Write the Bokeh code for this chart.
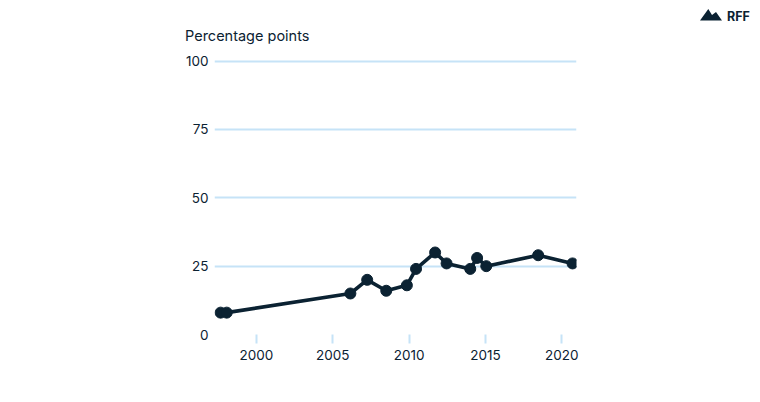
from bokeh.plotting import figure
from bokeh.layouts import column
from bokeh.models import ColumnDataSource, FixedTicker, Range1d, Div
from bokeh.embed import file_html
from bokeh.resources import INLINE

# data (decimal years, percentage points)
years = [1997.65, 1998.05, 2006.15, 2007.25, 2008.5, 2009.85, 2010.45,
         2011.7, 2012.45, 2014.0, 2014.45, 2015.05, 2018.45, 2020.7]
values = [8, 8, 15, 20, 16, 18, 24, 30, 26, 24, 28, 25, 29, 26]

x_ticks = [2000, 2005, 2010, 2015, 2020]
y_ticks = [0, 25, 50, 75, 100]

ink = "#0b2232"
grid = "#c6e3f7"
font = "Inter"

W = 744
HEAD = 52

# header strip: unit title and RFF logo
head_html = f"""
<div style="position:relative;width:{W}px;height:{HEAD}px;font-family:'{font}';color:{ink};">
  <span style="position:absolute;left:185px;top:26px;font-size:14.5px;white-space:nowrap;">Percentage points</span>
  <svg style="position:absolute;left:700px;top:9px;" width="22" height="12" viewBox="0 0 22 12">
    <polygon points="0,11.5 8.3,0 12,6 16,3 22,11.5" fill="{ink}"/>
  </svg>
  <span style="position:absolute;left:727px;top:7.5px;font-size:12.5px;font-weight:700;white-space:nowrap;">RFF</span>
</div>
"""
head = Div(text=head_html, width=W, height=HEAD, margin=0)

# main chart
p = figure(width=W, height=386 - HEAD, output_backend="svg", toolbar_location=None,
           x_range=Range1d(1997.25, 2020.96), y_range=Range1d(0, 100.6),
           min_border_left=214, min_border_right=168,
           min_border_top=7, min_border_bottom=52)
p.outline_line_color = None

src = ColumnDataSource(data=dict(x=years, y=values))
p.line("x", "y", source=src, line_color=ink, line_width=3.6)
p.scatter("x", "y", source=src, size=11, fill_color=ink, line_color=ink)

p.xaxis.ticker = FixedTicker(ticks=x_ticks)
p.yaxis.ticker = FixedTicker(ticks=y_ticks)
p.xaxis.axis_line_color = None
p.yaxis.axis_line_color = None
p.xaxis.major_tick_line_color = grid
p.xaxis.major_tick_line_width = 2
p.xaxis.major_tick_out = 9
p.xaxis.major_tick_in = 0
p.xaxis.minor_tick_line_color = None
p.yaxis.major_tick_line_color = None
p.yaxis.major_tick_out = 0
p.yaxis.major_tick_in = 0
p.yaxis.minor_tick_line_color = None
p.xaxis.major_label_standoff = 6
p.yaxis.major_label_standoff = 6
for ax in (p.xaxis, p.yaxis):
    ax.major_label_text_font = font
    ax.major_label_text_font_size = "13.5px"
    ax.major_label_text_color = ink

p.xgrid.grid_line_color = None
p.ygrid.grid_line_color = grid
p.ygrid.grid_line_width = 2

layout = column(head, p, spacing=0)
open("out.html", "w").write(file_html(layout, INLINE))
